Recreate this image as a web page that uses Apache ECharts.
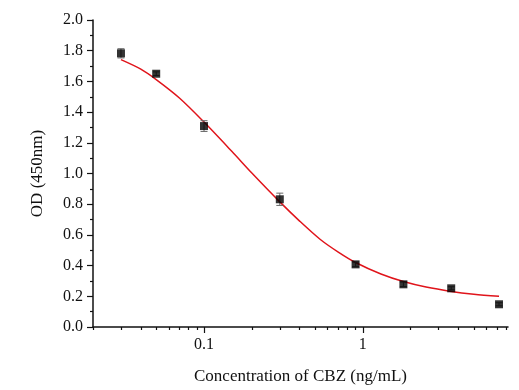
<!DOCTYPE html>
<html>
<head>
<meta charset="utf-8">
<script src="https://cdn.jsdelivr.net/npm/echarts@6/dist/echarts.min.js"></script>
<style>html,body{margin:0;padding:0;background:#fff;}#c{width:519px;height:390px;}</style>
</head>
<body>
<div id="c"></div>
<script>
// Measured data
var conc = [0.03, 0.05, 0.1, 0.3, 0.9, 1.8, 3.6, 7.2];
var od = [1.783, 1.650, 1.309, 0.832, 0.408, 0.278, 0.252, 0.148];
var err = [0.03, 0.012, 0.035, 0.04, 0.015, 0.015, 0.01, 0.01];
// Fitted curve
var fitX = [0.03, 0.04, 0.05, 0.07, 0.1, 0.15, 0.2, 0.3, 0.4, 0.54, 0.7, 0.9, 1.3, 1.8, 2.5, 3.6, 5.0, 7.2];
var fitY = [1.742, 1.680, 1.612, 1.492, 1.335, 1.143, 1.003, 0.815, 0.690, 0.570, 0.488, 0.420, 0.345, 0.296, 0.260, 0.232, 0.214, 0.200];
// Ticks
var xMajorTicks = [0.1, 1];
var xMinorTicks = [0.02,0.03,0.04,0.05,0.06,0.07,0.08,0.09,0.2,0.3,0.4,0.5,0.6,0.7,0.8,0.9,2,3,4,5,6,7,8];
var xMin = 0.02, xMax = 8.2;
var yMin = 0, yMax = 2.0, yStep = 0.2;

var font = '"Liberation Serif","Times New Roman",serif';
var pts = conc.map(function(c,i){return [c, od[i]];});
var errData = conc.map(function(c,i){return [c, od[i]-err[i], od[i]+err[i]];});
var fit = fitX.map(function(c,i){return [c, fitY[i]];});

var chart = echarts.init(document.getElementById('c'), null, {renderer:'canvas'});
chart.setOption({
  animation:false,
  backgroundColor:'#fff',
  grid:{left:93, right:11, top:20, bottom:62.5, containLabel:false},
  xAxis:[{
    type:'log', logBase:10, min:xMin, max:xMax,
    name:'Concentration of CBZ (ng/mL)', nameLocation:'middle', nameGap:41,
    nameTextStyle:{fontFamily:font, fontSize:17, color:'#111'},
    axisLine:{show:true, lineStyle:{color:'#111', width:1.5}},
    axisTick:{show:true, length:6, lineStyle:{color:'#111', width:1.2}, customValues:xMajorTicks},
    axisLabel:{show:true, fontFamily:font, fontSize:16, color:'#111', margin:10, customValues:xMajorTicks, formatter:function(v){return String(v);}},
    splitLine:{show:false}, minorTick:{show:false}
  },{
    type:'log', logBase:10, min:xMin, max:xMax, position:'bottom', gridIndex:0,
    axisLine:{show:false},
    axisTick:{show:true, length:3, lineStyle:{color:'#111', width:1.2}, customValues:xMinorTicks},
    axisLabel:{show:false},
    splitLine:{show:false}
  }],
  yAxis:{
    type:'value', min:yMin, max:yMax, interval:yStep,
    name:'OD (450nm)', nameLocation:'middle', nameGap:47,
    nameTextStyle:{fontFamily:font, fontSize:17, color:'#111'},
    axisLine:{show:true, lineStyle:{color:'#111', width:1.5}},
    axisTick:{show:true, length:6, lineStyle:{color:'#111', width:1.2}},
    minorTick:{show:true, splitNumber:2, length:3, lineStyle:{color:'#111', width:1.2}},
    axisLabel:{fontFamily:font, fontSize:16, color:'#111', margin:10, formatter:function(v){return v.toFixed(1);}},
    splitLine:{show:false}
  },
  series:[{
    type:'line', data:fit, smooth:0.3, showSymbol:false, symbol:'none',
    lineStyle:{color:'#e0141b', width:1.5}, z:2
  },{
    type:'custom', data:errData, z:3,
    renderItem:function(params, api){
      var x = api.value(0);
      var lo = api.coord([x, api.value(1)]);
      var hi = api.coord([x, api.value(2)]);
      var cw = 3.5;
      var st = {stroke:'#666', lineWidth:1};
      return {type:'group', children:[
        {type:'line', shape:{x1:lo[0], y1:lo[1], x2:hi[0], y2:hi[1]}, style:st},
        {type:'line', shape:{x1:lo[0]-cw, y1:lo[1], x2:lo[0]+cw, y2:lo[1]}, style:st},
        {type:'line', shape:{x1:hi[0]-cw, y1:hi[1], x2:hi[0]+cw, y2:hi[1]}, style:st}
      ]};
    }
  },{
    type:'scatter', data:pts, symbol:'rect', symbolSize:8,
    itemStyle:{color:'#000'}, z:4
  }]
});
</script>
</body>
</html>
